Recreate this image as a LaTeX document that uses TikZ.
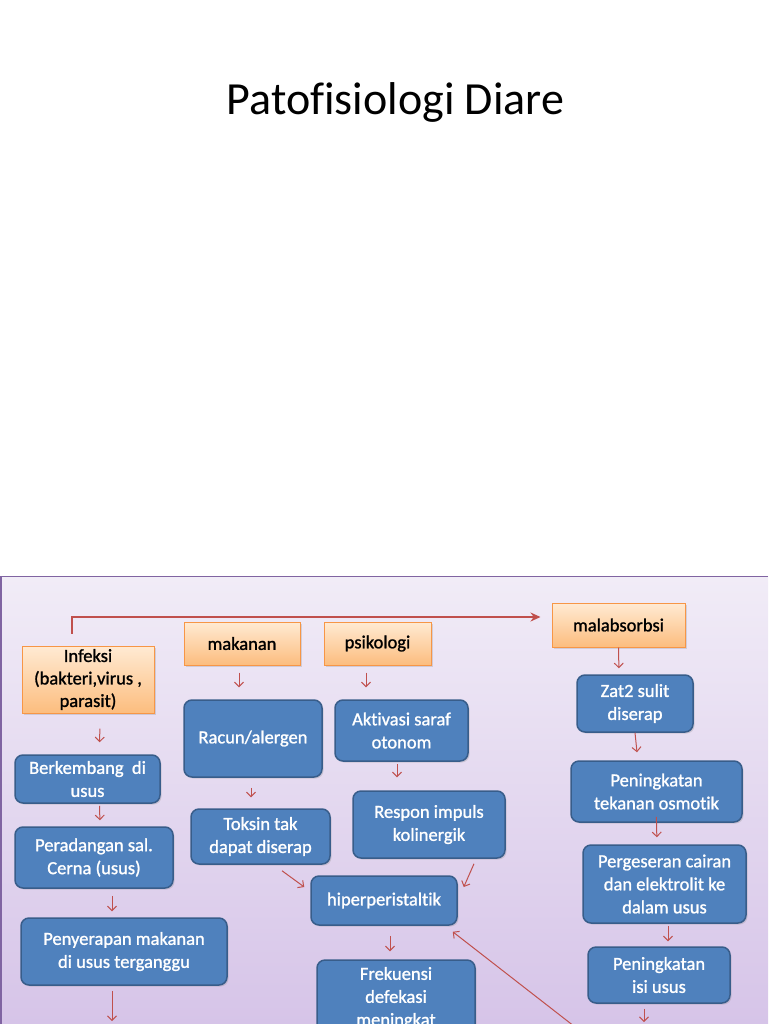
\documentclass[tikz,border=0pt]{standalone}
\usepackage{fontspec}
\setmainfont{Carlito}[Ligatures=NoCommon]
\newfontfamily\hurufkotak[FakeBold=1.2,Ligatures=NoCommon]{Carlito}
\usetikzlibrary{arrows.meta,calc,shadows}
\definecolor{kotakbiru}{HTML}{4F81BD}
\definecolor{garisbiru}{HTML}{385D8A}
\definecolor{jinggamuda}{HTML}{FFEAD3}
\definecolor{jingga}{HTML}{FCBD7E}
\definecolor{garisjingga}{HTML}{F79646}
\definecolor{merah}{HTML}{C0504D}
\definecolor{ungumuda}{HTML}{F1ECF7}
\definecolor{ungu}{HTML}{D6C4E8}
\definecolor{garisungu}{HTML}{8064A2}

\begin{document}
\begin{tikzpicture}[x=1pt,y=-1pt,
	blok/.style={draw=garisbiru,line width=1.5pt,fill=kotakbiru,rounded corners=8pt,text=white,align=center,inner sep=0pt,
		font=\hurufkotak\fontsize{18.5}{23}\selectfont,drop shadow={opacity=0.25,shadow xshift=1.5pt,shadow yshift=-1.5pt}},
	sebab/.style={draw=garisjingga,line width=1pt,top color=jinggamuda,bottom color=jingga,align=center,inner sep=0pt,
		font=\hurufkotak\fontsize{18.5}{22.5}\selectfont,drop shadow={opacity=0.25,shadow xshift=1.5pt,shadow yshift=-1.5pt}},
	panah/.style={draw=merah,line width=1pt,-{Straight Barb[length=4.5pt,width=9pt]}}]
		\useasboundingbox (0,0) rectangle (768,1024);
		\fill[white] (0,0) rectangle (768,1024);
		\node[anchor=base,font=\fontsize{46}{55}\selectfont] (judul) at (395.5,115) {Patofisiologi Diare};
		% latar bagan
		\shade[top color=ungumuda,bottom color=ungu] (0,576) rectangle (768,1024);
		\draw[garisungu,line width=1.5pt] (1,1024)--(1,576.5)--(768,576.5);
		% penyebab
		\node[sebab,minimum width=132pt,minimum height=67pt] (infeksi) at (88,679.5) {Infeksi\\(bakteri,virus ,\\parasit)};
		\node[sebab,minimum width=116pt,minimum height=43pt] (makanan) at (242,643.5) {makanan};
		\node[sebab,minimum width=107pt,minimum height=43pt] (psikologi) at (377.5,643.5) {psikologi};
		\node[sebab,minimum width=133pt,minimum height=44pt] (malabsorbsi) at (618.5,625) {malabsorbsi};
		% jalur infeksi
		\node[blok,minimum width=145pt,minimum height=48pt] (berkembang) at (87.5,779) {Berkembang \ di\\usus};
		\node[blok,minimum width=158pt,minimum height=61pt] (peradangan) at (94,857.5) {Peradangan sal.\\Cerna (usus)};
		\node[blok,minimum width=206pt,minimum height=67pt] (penyerapan) at (124,951.5) {Penyerapan makanan\\di usus terganggu};
		% jalur makanan dan psikologi
		\node[blok,minimum width=138pt,minimum height=77pt] (racun) at (253,738.5) {Racun/alergen};
		\node[blok,minimum width=139pt,minimum height=55pt] (toksin) at (260.5,836.5) {Toksin tak\\dapat diserap};
		\node[blok,minimum width=133pt,minimum height=61pt] (aktivasi) at (401.5,730.5) {Aktivasi saraf\\otonom};
		\node[blok,minimum width=152pt,minimum height=67pt] (respon) at (429,824.5) {Respon impuls\\kolinergik};
		\node[blok,minimum width=146pt,minimum height=49pt] (hiper) at (384,900.5) {hiperperistaltik};
		\node[blok,minimum width=158pt,minimum height=76pt] (frekuensi) at (396,998) {Frekuensi\\defekasi\\meningkat};
		% jalur malabsorbsi
		\node[blok,minimum width=116pt,minimum height=57pt] (zat) at (635,703.5) {Zat2 sulit\\diserap};
		\node[blok,minimum width=171pt,minimum height=61pt] (tekanan) at (656.5,791.5) {Peningkatan\\tekanan osmotik};
		\node[blok,minimum width=163pt,minimum height=78pt] (pergeseran) at (664.5,884) {Pergeseran cairan\\dan elektrolit ke\\dalam usus};
		\node[blok,minimum width=142pt,minimum height=56pt] (isi) at (659,975) {Peningkatan\\isi usus};
		\coordinate (bawah1) at (112,1021);
		\coordinate (bawah2) at (579,1030);
		\coordinate (bawah3) at (644,1022);
		% panah
		\draw[merah,line width=2.5pt,-{Stealth[length=10pt,width=9pt]}] ($(infeksi.north)+(-16,-12)$) |- ($(malabsorbsi.west)+(-11,-8)$);
		\draw[panah,shorten <=15pt,shorten >=12pt] ([xshift=12pt]infeksi.south)--([xshift=12pt]berkembang.north);
		\draw[panah,shorten <=2pt,shorten >=6pt] ([xshift=12pt]berkembang.south)--([xshift=6pt]peradangan.north);
		\draw[panah,shorten <=7pt,shorten >=6pt] ([xshift=18pt]peradangan.south)--([xshift=-12pt]penyerapan.north);
		\draw[panah,shorten <=5pt] ([xshift=-12pt]penyerapan.south)--(bawah1);
		\draw[panah,shorten <=7pt,shorten >=12pt] ([xshift=-3pt]makanan.south)--([xshift=-14pt]racun.north);
		\draw[panah,shorten <=10pt,shorten >=11pt] ([xshift=-2pt]racun.south)--([xshift=-9.5pt]toksin.north);
		\draw[panah,shorten <=7pt,shorten >=12pt] ([xshift=-11.5pt]psikologi.south)--([xshift=-35.5pt]aktivasi.north);
		\draw[panah,shorten <=2pt,shorten >=13pt] ([xshift=-4.5pt]aktivasi.south)--([xshift=-32pt]respon.north);
		\draw[panah] ($(toksin.south)+(21.5,6)$)--($(hiper.west)+(-6,-13.5)$);
		\draw[panah] ($(respon.south)+(45,5)$)--($(hiper.east)+(6,-13.5)$);
		\draw[panah,shorten <=10pt,shorten >=8pt] ([xshift=6pt]hiper.south)--([xshift=-6pt]frekuensi.north);
		\draw[panah] (bawah2)--($(hiper.south east)+(-5,6)$);
		\draw[panah,shorten >=6pt] (malabsorbsi.south)--([xshift=-16pt]zat.north);
		\draw[panah] (zat.south)--($(tekanan.north)+(-19.5,-8)$);
		\draw[panah,shorten <=-6pt,shorten >=7pt] (tekanan.south)--([xshift=-7.5pt]pergeseran.north);
		\draw[panah,shorten <=2pt,shorten >=5pt] ([xshift=3.5pt]pergeseran.south)--([xshift=9pt]isi.north);
		\draw[panah,shorten <=5pt] ([xshift=-15pt]isi.south)--(bawah3);
		\end{tikzpicture}
\end{document}
